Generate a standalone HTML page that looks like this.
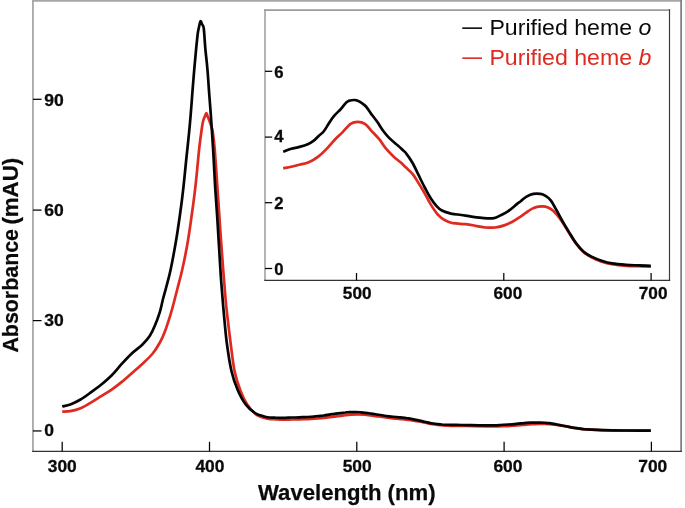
<!DOCTYPE html>
<html lang="en"><head><meta charset="utf-8"><title>Absorbance spectra of purified heme o and heme b</title>
<style>html,body{margin:0;padding:0;background:#fff}svg{display:block}text{font-family:"Liberation Sans",sans-serif;fill:#0a0a0a}.tk{font-weight:bold;font-size:17.3px;stroke:#0a0a0a;stroke-width:.3px}.ik{font-size:16.9px}.ti{font-weight:bold;font-size:22.8px;stroke:#0a0a0a;stroke-width:.25px}.lg{font-size:21.8px}</style></head><body>
<svg width="685" height="508" viewBox="0 0 685 508">
<rect width="685" height="508" fill="#fff"/>
<path d="M32.95 451.25 V0.0" fill="none" stroke="#a2a2a2" stroke-width="1.7"/>
<path d="M32.1 0.8 H681.95" fill="none" stroke="#a6a6a6" stroke-width="1.7"/>
<path d="M681.1 0.0 V451.25" fill="none" stroke="#7c7c7c" stroke-width="1.7"/>
<path d="M32.150000000000006 451.25 H681.9" fill="none" stroke="#333" stroke-width="1.25"/>
<path d="M62.2 451.25 v-9.5" stroke="#000" stroke-width="1.25"/>
<text class="tk" x="62.3" y="471.6" text-anchor="middle" textLength="29.0" lengthAdjust="spacingAndGlyphs">300</text>
<path d="M209.5 451.25 v-9.5" stroke="#000" stroke-width="1.25"/>
<text class="tk" x="209.95" y="471.6" text-anchor="middle" textLength="29.0" lengthAdjust="spacingAndGlyphs">400</text>
<path d="M356.8 451.25 v-9.5" stroke="#000" stroke-width="1.25"/>
<text class="tk" x="357.2" y="471.6" text-anchor="middle" textLength="29.0" lengthAdjust="spacingAndGlyphs">500</text>
<path d="M504.1 451.25 v-9.5" stroke="#000" stroke-width="1.25"/>
<text class="tk" x="507.9" y="471.6" text-anchor="middle" textLength="29.0" lengthAdjust="spacingAndGlyphs">600</text>
<path d="M651.4 451.25 v-9.5" stroke="#000" stroke-width="1.25"/>
<text class="tk" x="652.8" y="471.6" text-anchor="middle" textLength="29.0" lengthAdjust="spacingAndGlyphs">700</text>
<path d="M32.95 430.95 h8.6" stroke="#000" stroke-width="1.25"/>
<text class="tk" x="44.2" y="436.2" textLength="9.75" lengthAdjust="spacingAndGlyphs">0</text>
<path d="M32.95 320.6 h8.6" stroke="#000" stroke-width="1.25"/>
<text class="tk" x="44.2" y="325.9" textLength="19.5" lengthAdjust="spacingAndGlyphs">30</text>
<path d="M32.95 210.1 h8.6" stroke="#000" stroke-width="1.25"/>
<text class="tk" x="44.2" y="216.2" textLength="19.5" lengthAdjust="spacingAndGlyphs">60</text>
<path d="M32.95 99.3 h8.6" stroke="#000" stroke-width="1.25"/>
<text class="tk" x="44.2" y="105.7" textLength="19.5" lengthAdjust="spacingAndGlyphs">90</text>
<rect x="265.0" y="10.1" width="404.5" height="270.29999999999995" fill="#fff"/>
<path d="M62.2 411.6 C63.6 411.5 67.3 411.7 70.4 411.1 C73.5 410.5 77.2 409.6 80.6 408.2 C84.0 406.8 87.4 404.6 90.8 402.6 C94.2 400.6 97.7 398.3 101.1 396.2 C104.5 394.1 107.9 392.1 111.3 389.8 C114.7 387.5 118.1 384.9 121.5 382.1 C124.9 379.3 128.4 376.2 131.8 373.2 C135.2 370.2 138.6 367.4 142.0 364.2 C145.4 361.0 149.3 357.6 152.3 354.0 C155.3 350.4 157.8 346.3 159.9 342.5 C162.0 338.7 163.4 335.5 165.1 331.0 C166.8 326.5 168.7 320.4 170.2 315.6 C171.7 310.8 172.8 306.6 174.0 302.0 C175.2 297.4 176.2 293.3 177.6 288.0 C178.9 282.7 180.4 277.8 182.1 270.3 C183.8 262.8 186.0 252.0 187.6 242.8 C189.2 233.6 190.4 224.4 191.7 215.2 C193.0 206.0 194.3 196.3 195.3 187.6 C196.3 178.9 197.2 168.9 197.8 163.0 C198.4 157.1 198.3 156.8 198.8 152.3 C199.3 147.8 200.1 140.9 200.8 135.8 C201.5 130.8 202.2 125.2 202.9 122.0 C203.6 118.8 204.2 118.0 204.8 116.5 C205.4 115.0 205.9 113.2 206.4 113.2 C206.9 113.2 207.2 115.2 207.7 116.5 C208.2 117.8 208.9 119.2 209.5 121.0 C210.1 122.8 210.9 125.0 211.5 127.0 C212.1 129.0 212.4 129.5 212.9 133.0 C213.4 136.5 214.2 143.7 214.6 148.2 C215.0 152.7 215.0 153.4 215.5 160.0 C216.0 166.6 216.8 178.4 217.4 187.6 C218.0 196.8 218.7 206.0 219.3 215.2 C219.9 224.4 220.5 233.5 221.2 242.8 C221.9 252.1 222.6 261.8 223.3 271.0 C224.0 280.2 224.9 291.2 225.5 298.0 C226.1 304.8 226.0 304.0 226.8 311.5 C227.7 319.0 229.3 333.0 230.6 343.0 C231.9 353.0 233.0 363.4 234.6 371.3 C236.2 379.2 238.2 384.7 240.3 390.2 C242.4 395.7 244.5 400.3 247.2 404.4 C249.9 408.5 253.3 412.4 256.7 414.8 C260.1 417.2 264.5 417.9 267.7 418.6 C270.9 419.4 273.4 419.1 276.0 419.3 C278.6 419.5 280.6 419.7 283.2 419.7 C285.8 419.8 288.6 419.6 291.3 419.5 C294.0 419.5 296.6 419.4 299.5 419.3 C302.4 419.2 305.6 419.2 308.7 419.1 C311.8 418.9 315.0 418.7 317.9 418.5 C320.8 418.2 323.4 417.9 326.1 417.6 C328.8 417.3 331.6 416.9 334.3 416.6 C337.0 416.3 339.7 416.0 342.4 415.7 C345.1 415.4 348.0 414.9 350.6 414.7 C353.2 414.5 355.4 414.5 357.8 414.5 C360.2 414.5 362.7 414.6 364.9 414.7 C367.1 414.9 368.6 415.2 371.0 415.5 C373.4 415.8 376.8 416.1 379.2 416.5 C381.6 416.8 383.0 417.1 385.4 417.4 C387.8 417.8 391.0 418.1 393.5 418.4 C396.0 418.7 398.4 418.8 400.5 419.1 C402.6 419.3 404.1 419.4 406.1 419.7 C408.1 419.9 410.2 420.0 412.3 420.3 C414.4 420.6 416.4 421.0 418.4 421.4 C420.4 421.7 422.4 422.1 424.5 422.5 C426.6 422.9 428.5 423.4 430.7 423.8 C432.9 424.2 435.4 424.6 437.8 424.9 C440.2 425.2 442.4 425.4 445.0 425.6 C447.6 425.7 449.7 425.8 453.1 425.9 C456.5 426.0 461.6 425.9 465.4 426.0 C469.1 426.0 472.2 426.1 475.6 426.2 C479.0 426.2 482.6 426.3 485.8 426.4 C489.0 426.4 491.9 426.4 495.0 426.4 C498.1 426.3 501.3 426.2 504.2 426.1 C507.1 426.0 509.7 425.9 512.4 425.7 C515.1 425.6 518.0 425.3 520.3 425.2 C522.6 425.0 524.1 424.9 526.1 424.7 C528.1 424.6 530.2 424.4 532.3 424.2 C534.3 424.1 536.2 424.1 538.4 424.0 C540.6 424.0 543.3 424.0 545.5 424.0 C547.7 424.1 549.8 424.2 551.7 424.4 C553.6 424.5 554.9 424.7 556.8 424.9 C558.7 425.2 560.9 425.5 562.9 425.8 C564.9 426.2 566.8 426.6 569.0 426.9 C571.2 427.3 573.8 427.8 576.2 428.2 C578.6 428.6 580.9 428.8 583.4 429.1 C585.9 429.4 588.5 429.5 591.5 429.7 C594.5 429.9 598.3 430.1 601.7 430.2 C605.1 430.3 607.9 430.4 612.0 430.5 C616.1 430.6 621.9 430.6 626.3 430.7 C630.7 430.7 634.4 430.7 638.5 430.7 C642.6 430.7 648.8 430.7 650.8 430.7" fill="none" stroke="#de2a20" stroke-width="2.7" stroke-linejoin="round" stroke-linecap="butt"/>
<path d="M62.2 406.5 C63.6 406.1 67.3 405.6 70.4 404.4 C73.5 403.2 77.2 401.5 80.6 399.5 C84.0 397.5 87.4 394.9 90.8 392.4 C94.2 389.9 97.7 387.5 101.1 384.7 C104.5 381.9 107.9 379.1 111.3 375.7 C114.7 372.3 118.1 367.9 121.5 364.2 C124.9 360.5 128.4 356.7 131.8 353.5 C135.2 350.3 139.0 347.9 142.0 345.0 C145.0 342.1 147.6 339.3 149.7 336.1 C151.8 332.9 153.1 329.9 154.8 325.8 C156.5 321.8 158.5 316.3 159.9 311.8 C161.3 307.3 161.8 303.5 163.0 299.0 C164.2 294.5 165.6 289.8 166.8 285.0 C168.1 280.2 169.0 277.3 170.5 270.3 C172.0 263.3 174.1 252.0 175.7 242.8 C177.3 233.6 178.6 224.4 179.9 215.2 C181.2 206.0 182.4 196.8 183.4 187.6 C184.4 178.4 185.4 167.4 186.2 160.0 C187.0 152.6 187.4 148.8 188.0 143.0 C188.6 137.2 189.2 131.7 189.8 125.0 C190.4 118.3 191.1 109.7 191.6 103.0 C192.1 96.3 192.4 92.0 193.0 84.7 C193.6 77.4 194.4 67.4 195.2 59.2 C195.9 51.0 196.9 41.0 197.5 35.6 C198.1 30.2 198.5 29.4 199.0 27.0 C199.5 24.6 200.0 21.7 200.5 21.3 C201.0 20.9 201.6 23.3 202.2 24.5 C202.8 25.7 203.3 24.6 203.8 28.7 C204.3 32.8 204.8 42.6 205.4 49.3 C206.0 56.0 206.8 61.4 207.4 69.0 C208.1 76.6 208.7 87.2 209.3 95.0 C209.9 102.8 210.4 109.0 210.9 116.0 C211.4 123.0 211.9 130.0 212.3 137.0 C212.8 144.0 213.1 149.6 213.6 158.0 C214.1 166.4 214.6 178.1 215.2 187.6 C215.8 197.1 216.5 206.0 217.1 215.2 C217.7 224.4 218.2 233.2 218.8 242.8 C219.4 252.4 220.0 263.6 220.6 273.0 C221.2 282.4 222.1 292.3 222.6 299.0 C223.1 305.7 223.1 305.7 223.8 313.0 C224.5 320.3 225.5 333.3 226.8 343.0 C228.1 352.7 229.7 363.4 231.5 371.3 C233.3 379.2 235.4 384.7 237.8 390.2 C240.2 395.7 242.8 400.6 245.7 404.4 C248.6 408.2 251.7 411.1 255.1 413.2 C258.5 415.3 262.8 416.2 266.1 417.0 C269.4 417.8 272.1 417.6 275.0 417.7 C277.9 417.8 280.5 417.9 283.2 417.9 C285.9 417.9 288.6 417.6 291.3 417.5 C294.0 417.5 296.8 417.4 299.5 417.3 C302.2 417.2 305.3 417.2 307.7 417.0 C310.1 416.9 311.9 416.8 313.8 416.6 C315.7 416.5 317.2 416.3 318.9 416.1 C320.6 415.9 322.3 415.8 324.0 415.5 C325.7 415.3 327.5 414.9 329.2 414.6 C330.9 414.3 332.4 414.1 334.3 413.8 C336.2 413.6 338.5 413.4 340.4 413.1 C342.3 412.9 344.1 412.6 345.5 412.5 C346.9 412.3 346.9 412.2 348.6 412.2 C350.3 412.1 353.7 412.1 355.7 412.1 C357.7 412.1 359.1 412.2 360.8 412.3 C362.5 412.5 364.3 412.6 366.0 412.8 C367.7 413.0 369.1 413.3 371.0 413.6 C372.9 413.9 375.1 414.2 377.2 414.5 C379.2 414.8 381.3 415.2 383.3 415.5 C385.3 415.9 387.0 416.1 389.4 416.3 C391.8 416.6 395.3 416.9 397.6 417.2 C399.9 417.4 401.6 417.6 403.0 417.7 C404.4 417.9 404.6 417.8 406.1 418.0 C407.7 418.3 410.2 418.7 412.3 419.1 C414.4 419.5 416.4 420.0 418.4 420.4 C420.4 420.9 422.4 421.4 424.5 421.8 C426.6 422.3 428.6 422.7 430.7 423.1 C432.8 423.4 434.9 423.8 436.8 424.0 C438.7 424.2 439.5 424.3 441.9 424.5 C444.3 424.6 447.9 424.7 451.1 424.8 C454.3 424.9 457.9 424.9 461.3 425.0 C464.7 425.0 467.8 425.1 471.5 425.1 C475.2 425.2 480.1 425.3 483.8 425.3 C487.6 425.3 491.3 425.4 494.0 425.3 C496.7 425.3 497.7 425.2 500.1 425.0 C502.5 424.9 505.6 424.7 508.3 424.5 C511.0 424.3 514.4 424.0 516.5 423.8 C518.6 423.6 519.4 423.5 521.0 423.4 C522.6 423.3 524.1 423.1 526.1 422.9 C528.1 422.8 530.9 422.7 533.3 422.6 C535.7 422.5 538.4 422.6 540.4 422.6 C542.4 422.6 543.8 422.7 545.5 422.8 C547.2 422.9 548.8 423.1 550.7 423.3 C552.6 423.6 554.8 424.1 556.8 424.5 C558.8 424.9 560.9 425.3 562.9 425.7 C564.9 426.1 566.8 426.5 569.0 426.9 C571.2 427.3 573.8 427.8 576.2 428.1 C578.6 428.5 580.9 428.8 583.4 429.1 C585.9 429.3 588.5 429.5 591.5 429.6 C594.5 429.8 598.3 430.0 601.7 430.1 C605.1 430.2 607.9 430.3 612.0 430.4 C616.1 430.5 621.9 430.5 626.3 430.5 C630.7 430.6 634.4 430.6 638.5 430.6 C642.6 430.6 648.8 430.7 650.8 430.7" fill="none" stroke="#050505" stroke-width="2.7" stroke-linejoin="round" stroke-linecap="butt"/>
<rect x="265.0" y="10.1" width="404.5" height="270.29999999999995" fill="#fff"/>
<path d="M265.0 280.4 V9.299999999999999" fill="none" stroke="#a2a2a2" stroke-width="1.6"/>
<path d="M264.2 10.1 H670.1" fill="none" stroke="#9c9c9c" stroke-width="1.6"/>
<path d="M669.5 9.299999999999999 V280.4" fill="none" stroke="#3c3c3c" stroke-width="1.2"/>
<path d="M264.3 280.4 H670.2" fill="none" stroke="#333" stroke-width="1.25"/>
<path d="M356.5 280.4 v-7.4" stroke="#000" stroke-width="1.25"/>
<text class="tk ik" x="357.2" y="298.8" text-anchor="middle" textLength="28.7" lengthAdjust="spacingAndGlyphs">500</text>
<path d="M503.8 280.4 v-7.4" stroke="#000" stroke-width="1.25"/>
<text class="tk ik" x="507.9" y="298.8" text-anchor="middle" textLength="28.7" lengthAdjust="spacingAndGlyphs">600</text>
<path d="M651.1 280.4 v-7.4" stroke="#000" stroke-width="1.25"/>
<text class="tk ik" x="653.1" y="298.8" text-anchor="middle" textLength="28.7" lengthAdjust="spacingAndGlyphs">700</text>
<path d="M265.0 268.5 h7.2" stroke="#000" stroke-width="1.25"/>
<text class="tk ik" x="274.3" y="274.6" textLength="9.3" lengthAdjust="spacingAndGlyphs">0</text>
<path d="M265.0 202.7 h7.2" stroke="#000" stroke-width="1.25"/>
<text class="tk ik" x="274.3" y="209.0" textLength="9.3" lengthAdjust="spacingAndGlyphs">2</text>
<path d="M265.0 137.1 h7.2" stroke="#000" stroke-width="1.25"/>
<text class="tk ik" x="274.3" y="141.7" textLength="9.3" lengthAdjust="spacingAndGlyphs">4</text>
<path d="M265.0 71.3 h7.2" stroke="#000" stroke-width="1.25"/>
<text class="tk ik" x="274.3" y="77.9" textLength="9.3" lengthAdjust="spacingAndGlyphs">6</text>
<path d="M283.2 168.4 C284.6 168.1 288.6 167.3 291.3 166.7 C294.0 166.1 296.6 165.4 299.5 164.7 C302.4 164.0 305.6 163.6 308.7 162.3 C311.8 161.0 315.0 159.1 317.9 156.9 C320.8 154.8 323.4 152.2 326.1 149.4 C328.8 146.6 331.6 143.0 334.3 140.2 C337.0 137.4 339.7 135.1 342.4 132.4 C345.1 129.7 348.0 125.6 350.6 123.8 C353.2 122.0 355.4 121.8 357.8 121.8 C360.2 121.8 362.7 122.4 364.9 123.8 C367.1 125.2 368.6 127.8 371.0 130.4 C373.4 133.0 376.8 136.3 379.2 139.2 C381.6 142.1 383.0 145.0 385.4 147.9 C387.8 150.8 391.0 154.1 393.5 156.5 C396.0 158.9 398.4 160.5 400.5 162.3 C402.6 164.2 404.1 165.7 406.1 167.6 C408.1 169.5 410.2 171.1 412.3 173.7 C414.4 176.2 416.4 179.7 418.4 182.9 C420.4 186.1 422.4 189.5 424.5 193.1 C426.6 196.7 428.5 200.8 430.7 204.4 C432.9 208.0 435.4 211.9 437.8 214.6 C440.2 217.2 442.4 218.9 445.0 220.3 C447.6 221.7 449.7 222.5 453.1 223.2 C456.5 223.8 461.6 223.8 465.4 224.2 C469.1 224.6 472.2 225.2 475.6 225.8 C479.0 226.4 482.6 227.2 485.8 227.5 C489.0 227.8 491.9 227.8 495.0 227.5 C498.1 227.2 501.3 226.4 504.2 225.4 C507.1 224.4 509.7 223.1 512.4 221.7 C515.1 220.3 518.0 218.3 520.3 216.8 C522.6 215.3 524.1 214.1 526.1 212.7 C528.1 211.3 530.2 209.6 532.3 208.6 C534.3 207.6 536.2 206.9 538.4 206.6 C540.6 206.3 543.3 206.1 545.5 206.6 C547.7 207.1 549.8 208.2 551.7 209.6 C553.6 210.9 554.9 212.5 556.8 214.7 C558.7 216.9 560.9 219.9 562.9 222.9 C564.9 225.9 566.8 229.2 569.0 232.7 C571.2 236.2 573.8 240.6 576.2 243.8 C578.6 247.0 580.9 249.7 583.4 251.9 C585.9 254.2 588.5 255.7 591.5 257.3 C594.5 258.9 598.3 260.6 601.7 261.7 C605.1 262.8 607.9 263.5 612.0 264.2 C616.1 264.9 621.9 265.5 626.3 265.8 C630.7 266.1 634.4 266.1 638.5 266.2 C642.6 266.3 648.8 266.5 650.8 266.6" fill="none" stroke="#de2a20" stroke-width="2.7" stroke-linejoin="round"/>
<path d="M283.2 151.8 C284.6 151.3 288.6 149.6 291.3 148.8 C294.0 148.0 296.8 147.7 299.5 146.9 C302.2 146.2 305.3 145.4 307.7 144.3 C310.1 143.2 311.9 142.0 313.8 140.6 C315.7 139.2 317.2 137.3 318.9 135.7 C320.6 134.1 322.3 133.2 324.0 131.0 C325.7 128.8 327.5 125.3 329.2 122.8 C330.9 120.2 332.4 117.9 334.3 115.7 C336.2 113.5 338.5 111.5 340.4 109.5 C342.3 107.5 344.1 104.8 345.5 103.4 C346.9 102.0 346.9 101.5 348.6 100.9 C350.3 100.4 353.7 99.8 355.7 100.1 C357.7 100.3 359.1 101.3 360.8 102.4 C362.5 103.5 364.3 104.6 366.0 106.5 C367.7 108.4 369.1 111.0 371.0 113.6 C372.9 116.1 375.1 118.9 377.2 121.8 C379.2 124.7 381.3 128.3 383.3 131.0 C385.3 133.7 387.0 135.7 389.4 138.1 C391.8 140.5 395.3 143.3 397.6 145.3 C399.9 147.3 401.6 149.0 403.0 150.3 C404.4 151.6 404.6 151.3 406.1 153.3 C407.7 155.3 410.2 158.9 412.3 162.5 C414.4 166.1 416.4 170.6 418.4 174.7 C420.4 178.8 422.4 183.1 424.5 187.0 C426.6 190.9 428.6 195.0 430.7 198.2 C432.8 201.4 434.9 204.3 436.8 206.4 C438.7 208.5 439.5 209.3 441.9 210.5 C444.3 211.7 447.9 212.8 451.1 213.6 C454.3 214.3 457.9 214.5 461.3 215.0 C464.7 215.5 467.8 216.1 471.5 216.6 C475.2 217.1 480.1 217.8 483.8 218.1 C487.6 218.3 491.3 218.5 494.0 218.1 C496.7 217.7 497.7 216.8 500.1 215.6 C502.5 214.4 505.6 213.0 508.3 211.1 C511.0 209.2 514.4 206.1 516.5 204.4 C518.6 202.7 519.4 202.3 521.0 201.0 C522.6 199.7 524.1 198.0 526.1 196.8 C528.1 195.6 530.9 194.4 533.3 193.9 C535.7 193.4 538.4 193.6 540.4 193.9 C542.4 194.2 543.8 194.8 545.5 195.9 C547.2 197.0 548.8 197.9 550.7 200.4 C552.6 202.9 554.8 207.1 556.8 210.7 C558.8 214.3 560.9 218.3 562.9 221.9 C564.9 225.5 566.8 228.5 569.0 232.1 C571.2 235.7 573.8 240.2 576.2 243.4 C578.6 246.6 580.9 249.3 583.4 251.5 C585.9 253.7 588.5 255.1 591.5 256.6 C594.5 258.1 598.3 259.6 601.7 260.7 C605.1 261.8 607.9 262.7 612.0 263.4 C616.1 264.1 621.9 264.5 626.3 264.8 C630.7 265.1 634.4 265.2 638.5 265.4 C642.6 265.6 648.8 265.7 650.8 265.8" fill="none" stroke="#050505" stroke-width="2.7" stroke-linejoin="round"/>
<path d="M462.3 28.15 H482" stroke="#0a0a0a" stroke-width="1.6"/>
<text class="lg" x="489.4" y="35.2" textLength="162" lengthAdjust="spacingAndGlyphs">Purified heme <tspan font-style="italic">o</tspan></text>
<path d="M462.3 58.15 H482" stroke="#de2a20" stroke-width="1.6"/>
<text class="lg" x="489.4" y="65.2" textLength="162" lengthAdjust="spacingAndGlyphs" style="fill:#de2a20">Purified heme <tspan font-style="italic">b</tspan></text>
<text class="ti" x="258.0" y="499.8" textLength="177.6" lengthAdjust="spacingAndGlyphs">Wavelength (nm)</text>
<text class="ti" transform="translate(18.0 352.6) rotate(-90)"><tspan x="0" textLength="123.6" lengthAdjust="spacingAndGlyphs">Absorbance</tspan> <tspan x="128.0" textLength="66.8" lengthAdjust="spacingAndGlyphs">(mAU)</tspan></text>
</svg></body></html>
